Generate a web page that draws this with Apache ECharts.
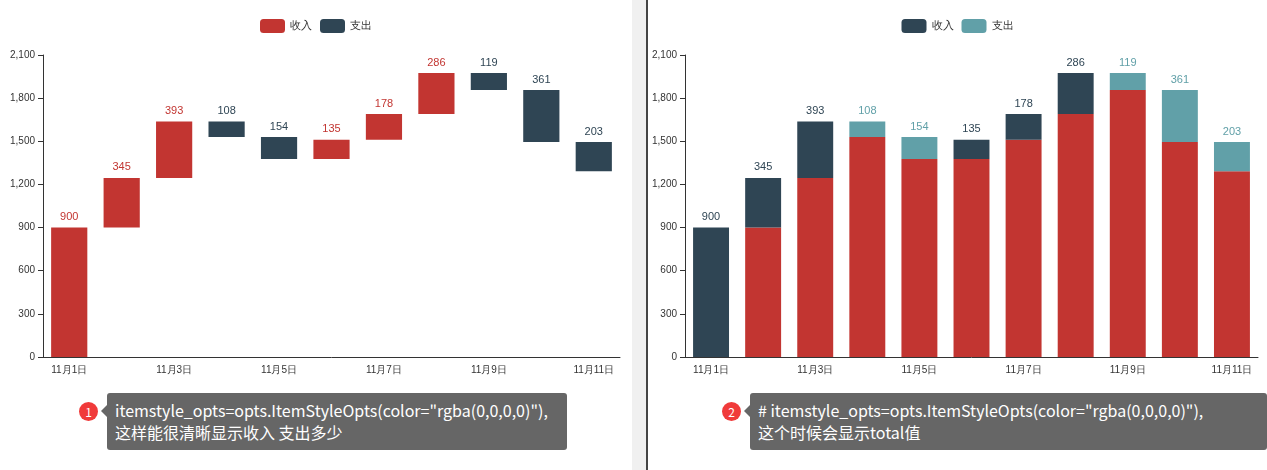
<!DOCTYPE html>
<html>
<head>
<meta charset="utf-8">
<script src="https://cdn.jsdelivr.net/npm/echarts@6/dist/echarts.min.js"></script>
<style>
body{margin:0;width:1267px;height:470px;position:relative;background:#fff;font-family:"Noto Sans CJK SC",sans-serif;overflow:hidden}
.chart{position:absolute;top:0;height:380px}
.gap{position:absolute;left:632px;top:0;width:14px;height:470px;background:#f0f0f0}
.div{position:absolute;left:646px;top:0;width:2px;height:470px;background:#444}
.note{position:absolute;top:393px;height:57px;background:#666;color:#fff;font-size:16px;line-height:22px;padding:6px 8px;box-sizing:border-box;border-radius:3px}
.note:before{content:"";position:absolute;left:-6px;top:12px;border:6px solid transparent;border-right-color:#666;border-left:0}
.dot{position:absolute;top:402px;width:19px;height:19px;border-radius:50%;background:#f03a3a;color:#fff;font-size:12px;text-align:center;line-height:19px}
</style>
</head>
<body>
<div id="c1" class="chart" style="left:0;width:632px"></div>
<div class="gap"></div>
<div class="div"></div>
<div id="c2" class="chart" style="left:648px;width:619px"></div>
<div class="dot" style="left:79px">1</div>
<div class="note" style="left:107px;width:460px">itemstyle_opts=opts.ItemStyleOpts(color="rgba(0,0,0,0)"),<br>这样能很清晰显示收入 支出多少</div>
<div class="dot" style="left:722px">2</div>
<div class="note" style="left:750px;width:517px"># itemstyle_opts=opts.ItemStyleOpts(color="rgba(0,0,0,0)"),<br>这个时候会显示total值</div>
<script>
const days = ['11月1日','11月2日','11月3日','11月4日','11月5日','11月6日','11月7日','11月8日','11月9日','11月10日','11月11日'];
const baseVals = [0, 900, 1245, 1530, 1376, 1376, 1511, 1689, 1856, 1495, 1292];
const incomeVals = [900, 345, 393, '-', '-', 135, 178, 286, '-', '-', '-'];
const expenseVals = ['-', '-', '-', 108, 154, '-', '-', '-', 119, 361, 203];

function makeOption(baseColor, inColor, outColor, gridLeft, gridRight) {
    const lbl = (c) => ({show: true, position: 'top', color: c, fontSize: 11});
    return {
        animation: false,
        legend: {top: 14, itemWidth: 25, itemHeight: 14, textStyle: {fontSize: 11, color: '#333'}, data: ['收入', '支出']},
        grid: {left: gridLeft, right: gridRight, top: 55, bottom: 23},
        xAxis: {
            type: 'category', data: days,
            axisLine: {lineStyle: {color: '#333'}},
            axisLabel: {color: '#333', fontSize: 10, interval: 1}
        },
        yAxis: {
            type: 'value', min: 0, max: 2100, interval: 300,
            axisLine: {show: true, lineStyle: {color: '#333'}},
            axisTick: {show: true},
            splitLine: {show: false},
            axisLabel: {color: '#333', fontSize: 10}
        },
        series: [
            {name: 'base', type: 'bar', stack: 'total', data: baseVals, itemStyle: {color: baseColor}},
            {name: '收入', type: 'bar', stack: 'total', data: incomeVals, itemStyle: {color: inColor}, label: lbl(inColor)},
            {name: '支出', type: 'bar', stack: 'total', data: expenseVals, itemStyle: {color: outColor}, label: lbl(outColor)}
        ]
    };
}

echarts.init(document.getElementById('c1')).setOption(makeOption('rgba(0,0,0,0)', '#c23531', '#2f4554', 43, 12));
echarts.init(document.getElementById('c2')).setOption(makeOption('#c23531', '#2f4554', '#61a0a8', 37, 9));
</script>
</body>
</html>
